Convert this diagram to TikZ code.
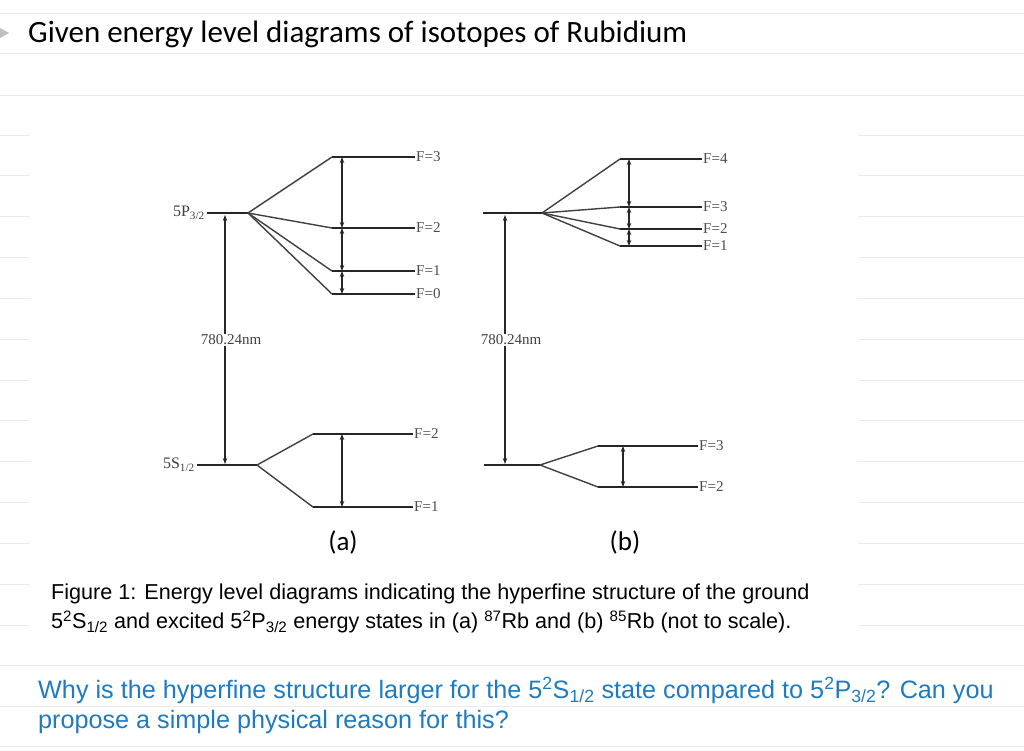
\documentclass[tikz,border=0pt]{standalone}
\usepackage{fontspec}
\setmainfont{Liberation Serif}
\newfontfamily\calfont{Carlito}
\newfontfamily\arifont{Liberation Sans}
\usetikzlibrary{arrows.meta}
\definecolor{qblue}{HTML}{1F7BBE}
\tikzset{
 lev/.style={line width=2pt,black!85},
 fan/.style={line width=1.4pt,black!75},
 sep/.style={line width=1.4pt,black!85,{Stealth[length=6pt,width=4.5pt]}-{Stealth[length=6pt,width=4.5pt]}},
 flab/.style={anchor=west,inner sep=1pt,font=\fontsize{15}{15}\selectfont,text=black!70},
 slab/.style={anchor=east,inner sep=2pt,font=\fontsize{16}{16}\selectfont,text=black!75},
 wl/.style={font=\fontsize{15}{15}\selectfont,text=black!75,fill=white,inner sep=1pt}
}
\begin{document}
\begin{tikzpicture}[x=1pt,y=-1pt]
\useasboundingbox (0,0) rectangle (1024,751);
\fill[white] (0,0) rectangle (1024,751);
\foreach \yy in {13,53,95,135,175,216,257,298,339,380,420,461,502,543,584,625,665,706,746}
  \draw[black!8,line width=0.9pt] (0,\yy) -- (1024,\yy);
\fill[white] (30,97) rectangle (858,648);
\fill[black!25] (0,28) -- (9,33) -- (0,38) -- cycle;
\node[anchor=west,inner sep=0pt,font=\calfont\fontsize{31}{31}\selectfont] (title) at (28,34) {Given energy level diagrams of isotopes of Rubidium};

% ---------- (a) ----------
\coordinate (aP0) at (207,213); \coordinate (aP1) at (248,213);
\draw[lev] (aP0) -- (aP1);
\node[slab] (aPl) at (aP0) {5P\textsubscript{3/2}};
\foreach \n/\y/\lab in {3/157/F=3,2/228/F=2,1/271/F=1,0/294/F=0}{
  \coordinate (aF\n s) at (332,\y); \coordinate (aF\n e) at (415,\y);
  \draw[fan] (aP1) -- (aF\n s);
  \draw[lev] (aF\n s) -- (aF\n e);
  \node[flab] (aF\n l) at (aF\n e) {\lab};
}
\draw[sep] (342,157) -- (342,228);
\draw[sep] (342,228) -- (342,271);
\draw[sep] (342,271) -- (342,294);

\coordinate (aS0) at (197,465); \coordinate (aS1) at (257,465);
\draw[lev] (aS0) -- (aS1);
\node[slab] (aSl) at (aS0) {5S\textsubscript{1/2}};
\foreach \n/\y/\lab in {2/434/F=2,1/507/F=1}{
  \coordinate (aG\n s) at (313,\y); \coordinate (aG\n e) at (413,\y);
  \draw[fan] (aS1) -- (aG\n s);
  \draw[lev] (aG\n s) -- (aG\n e);
  \node[flab] (aG\n l) at (aG\n e) {\lab};
}
\draw[sep] (342,434) -- (342,507);
\draw[sep] (225,215) -- (225,464);
\node[wl] (awl) at (231,340) {780.24nm};

% ---------- (b) ----------
\coordinate (bP0) at (483,213); \coordinate (bP1) at (542,213);
\draw[lev] (bP0) -- (bP1);
\foreach \n/\y/\lab in {4/159/F=4,3/207/F=3,2/229/F=2,1/246/F=1}{
  \coordinate (bF\n s) at (620,\y); \coordinate (bF\n e) at (702,\y);
  \draw[fan] (bP1) -- (bF\n s);
  \draw[lev] (bF\n s) -- (bF\n e);
  \node[flab] (bF\n l) at (bF\n e) {\lab};
}
\draw[sep] (629,159) -- (629,207);
\draw[sep] (629,207) -- (629,229);
\draw[sep] (629,229) -- (629,246);

\coordinate (bS0) at (484,465); \coordinate (bS1) at (540,465);
\draw[lev] (bS0) -- (bS1);
\foreach \n/\y/\lab in {3/446/F=3,2/487/F=2}{
  \coordinate (bG\n s) at (598,\y); \coordinate (bG\n e) at (698,\y);
  \draw[fan] (bS1) -- (bG\n s);
  \draw[lev] (bG\n s) -- (bG\n e);
  \node[flab] (bG\n l) at (bG\n e) {\lab};
}
\draw[sep] (623,446) -- (623,487);
\draw[sep] (505,215) -- (505,464);
\node[wl] (bwl) at (511,340) {780.24nm};

\node[font=\calfont\fontsize{27}{27}\selectfont] (capa) at (343,542) {(a)};
\node[font=\calfont\fontsize{27}{27}\selectfont] (capb) at (625,542) {(b)};

\node[anchor=west,inner sep=0pt,font=\arifont\fontsize{21.6}{21.6}\selectfont] (c1) at (51,594) {Figure 1: Energy level diagrams indicating the hyperfine structure of the ground};
\node[anchor=west,inner sep=0pt,font=\arifont\fontsize{21.6}{21.6}\selectfont] (c2) at (51,622) {5\textsuperscript{2}S\textsubscript{1/2} and excited 5\textsuperscript{2}P\textsubscript{3/2} energy states in (a) \textsuperscript{87}Rb and (b) \textsuperscript{85}Rb (not to scale).};

\node[anchor=west,inner sep=0pt,text=qblue,font=\arifont\fontsize{25.2}{25.2}\selectfont] (q1) at (38,690) {Why is the hyperfine structure larger for the 5\textsuperscript{2}S\textsubscript{1/2} state compared to 5\textsuperscript{2}P\textsubscript{3/2}? Can you};
\node[anchor=west,inner sep=0pt,text=qblue,font=\arifont\fontsize{25.2}{25.2}\selectfont] (q2) at (38,722) {propose a simple physical reason for this?};
\end{tikzpicture}
\end{document}
